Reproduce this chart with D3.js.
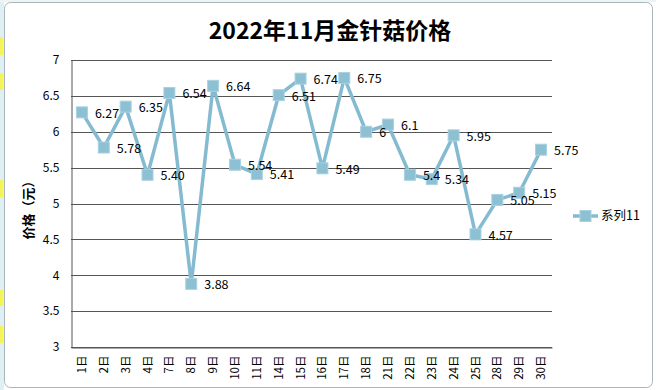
<!DOCTYPE html>
<html><head><meta charset="utf-8">
<script src="https://cdn.jsdelivr.net/npm/d3@7"></script>
<style>
body{margin:0;padding:0;background:#fff;}
svg{display:block;}
</style></head>
<body><svg id="c" width="656" height="390"></svg>
<script>
const categories = ["1日","2日","3日","4日","7日","8日","9日","10日","11日","14日","15日","16日","17日","18日","21日","22日","23日","24日","25日","28日","29日","30日"];
const values = [6.27,5.78,6.35,5.40,6.54,3.88,6.64,5.54,5.41,6.51,6.74,5.49,6.75,6,6.1,5.4,5.34,5.95,4.57,5.05,5.15,5.75];
const valueLabels = ["6.27","5.78","6.35","5.40","6.54","3.88","6.64","5.54","5.41","6.51","6.74","5.49","6.75","6","6.1","5.4","5.34","5.95","4.57","5.05","5.15","5.75"];
const yTicks = [3,3.5,4,4.5,5,5.5,6,6.5,7];
const yTickLabels = ["3","3.5","4","4.5","5","5.5","6","6.5","7"];
const title = "2022年11月金针菇价格";
const yTitle = "价格（元）";
const seriesName = "系列11";

const svg = d3.select("#c");
const font = "'Noto Sans CJK SC','DejaVu Sans',sans-serif";
const lineColor = "#84bbd0";

// spreadsheet strip on the left
svg.append("rect").attr("x",0).attr("y",0).attr("width",4).attr("height",390).attr("fill","#dfeff3");
[[37,55],[73,90],[180,197],[290,306],[326,343]].forEach(r=>{
  svg.append("rect").attr("x",0).attr("y",r[0]).attr("width",3).attr("height",r[1]-r[0]).attr("fill","#f3f35a");
});
svg.append("rect").attr("x",0).attr("y",0).attr("width",656).attr("height",2).attr("fill","#eef4f6");
// chart frame
svg.append("rect").attr("x",4.5).attr("y",2.5).attr("width",648).attr("height",385).attr("rx",6)
  .attr("fill","#fff").attr("stroke","#a9b5b8").attr("stroke-width",1);

const m = {l:71, r:552, t:60, b:347};
const x = d3.scaleBand().domain(categories).range([m.l,m.r]);
const y = d3.scaleLinear().domain([3,7]).range([m.b,m.t]);

// gridlines
svg.append("g").selectAll("line").data(yTicks).join("line")
  .attr("x1",m.l).attr("x2",m.r).attr("y1",d=>Math.round(y(d))+0.5).attr("y2",d=>Math.round(y(d))+0.5)
  .attr("stroke","#555").attr("stroke-width",1);

// y axis
const ya = d3.axisLeft(y).tickValues(yTicks).tickFormat((d,i)=>yTickLabels[i]).tickSize(0).tickPadding(12);
const yg = svg.append("g").attr("transform",`translate(${m.l+0.5},0)`).call(ya);
yg.select(".domain").attr("stroke","#555");
yg.selectAll("text").attr("font-family",font).attr("font-size",12).attr("fill","#000");

// x axis
const xa = d3.axisBottom(x).tickSize(0).tickPadding(0);
const xg = svg.append("g").attr("transform",`translate(0,${m.b+0.5})`).call(xa);
xg.select(".domain").attr("stroke","#555");
xg.selectAll("text").attr("font-family",font).attr("font-size",11.5).attr("fill","#000")
  .attr("text-anchor","end").attr("dy","0.35em")
  .attr("transform","translate(0,8) rotate(-90)").attr("x",0).attr("y",0);

// line
const line = d3.line().x((d,i)=>x(categories[i])+x.bandwidth()/2).y(d=>y(d));
svg.append("path").datum(values).attr("d",line).attr("fill","none")
  .attr("stroke",lineColor).attr("stroke-width",3.5).attr("stroke-linejoin","round");

// markers
svg.append("g").selectAll("rect").data(values).join("rect")
  .attr("x",(d,i)=>x(categories[i])+x.bandwidth()/2-5.5).attr("y",d=>y(d)-5.5)
  .attr("width",11).attr("height",11).attr("fill","#8ec0d4").attr("stroke","#a9d2e1").attr("stroke-width",1);

// data labels
svg.append("g").selectAll("text").data(values).join("text")
  .attr("x",(d,i)=>x(categories[i])+x.bandwidth()/2+13).attr("y",d=>y(d)+1)
  .attr("dy","0.35em").attr("font-family",font).attr("font-size",12.5).attr("fill","#000")
  .text((d,i)=>valueLabels[i]);

// title
svg.append("text").attr("x",330).attr("y",39).attr("text-anchor","middle")
  .attr("font-family",font).attr("font-size",23).attr("font-weight","bold").attr("fill","#000").text(title);

// y title
svg.append("text").attr("transform","translate(28,207) rotate(-90)").attr("text-anchor","middle")
  .attr("dy","0.35em").attr("font-family",font).attr("font-size",13).attr("font-weight","bold").attr("fill","#000").text(yTitle);

// legend
const lg = svg.append("g");
lg.append("line").attr("x1",573).attr("x2",598).attr("y1",216).attr("y2",216).attr("stroke",lineColor).attr("stroke-width",3.5);
lg.append("rect").attr("x",580).attr("y",210.5).attr("width",11).attr("height",11).attr("fill","#8ec0d4").attr("stroke","#a9d2e1");
lg.append("text").attr("x",601).attr("y",216).attr("dy","0.35em").attr("font-family",font).attr("font-size",12.5).attr("fill","#000").text(seriesName);
</script></body></html>
